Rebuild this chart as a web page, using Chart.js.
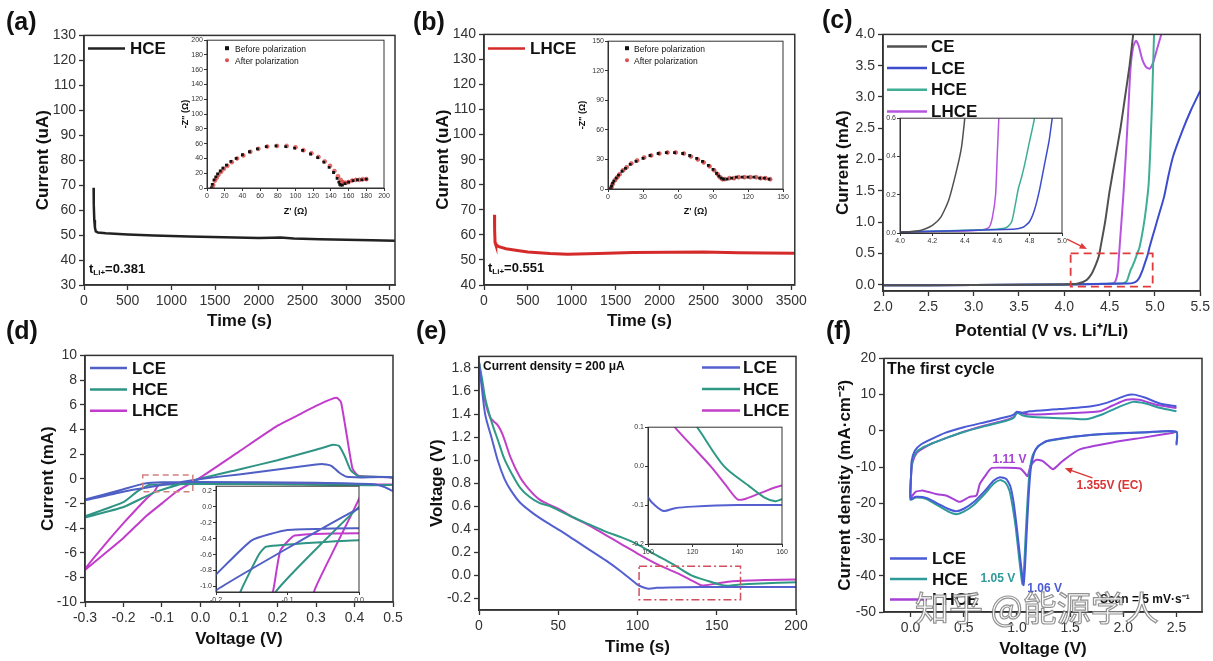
<!DOCTYPE html>
<html>
<head>
<meta charset="utf-8">
<script src="https://cdn.jsdelivr.net/npm/chart.js@4.4.0/dist/chart.umd.min.js"></script>
<style>
body { margin: 0; background: #fff; width: 1213px; height: 661px; overflow: hidden; position: relative; }
canvas { position: absolute; }
.tag { position: absolute; font: bold 25px "Liberation Sans", Arial, sans-serif; color: #111; line-height: 1; }
.wm { position: absolute; left: 915px; top: 590px; font: 34px "Noto Sans CJK SC", sans-serif; line-height: 1;
      color: rgba(255,255,255,0.9); -webkit-text-stroke: 1.2px rgba(110,110,110,0.75); white-space: nowrap; }
</style>
</head>
<body>
<canvas id="pa"></canvas><canvas id="pb"></canvas><canvas id="pc"></canvas>
<canvas id="pd"></canvas><canvas id="pe"></canvas><canvas id="pf"></canvas>
<canvas id="ia"></canvas><canvas id="ib"></canvas><canvas id="ic"></canvas>
<canvas id="id"></canvas><canvas id="ie"></canvas>
<div class="tag" style="left:6px;top:9px">(a)</div>
<div class="tag" style="left:413px;top:9px">(b)</div>
<div class="tag" style="left:822px;top:7px">(c)</div>
<div class="tag" style="left:6px;top:318px">(d)</div>
<div class="tag" style="left:416px;top:318px">(e)</div>
<div class="tag" style="left:826px;top:318px">(f)</div>
<div class="wm">知乎 @能源学人</div>
<script>
// tick labels that do not sit on the axis ends
const timeTicks = [0, 500, 1000, 1500, 2000, 2500, 3000, 3500];
const eVoltTicks = [-0.2, 0.0, 0.2, 0.4, 0.6, 0.8, 1.0, 1.2, 1.4, 1.6, 1.8];

// (a) HCE polarization current
const hceTime = [110, 112, 118, 125, 135, 160, 250, 500, 800, 1200, 1600, 2000, 2150, 2250, 2400, 2700, 3000, 3300, 3600];
const hceCurrent = [69, 62, 56, 53, 51.5, 51, 50.7, 50.2, 49.8, 49.4, 49.1, 48.8, 48.9, 49.0, 48.6, 48.3, 48.1, 47.9, 47.7];
// (a) inset EIS
const aBeforeRe = [5, 6, 8, 10, 12, 15, 18, 22, 27, 33, 40, 48, 57, 67, 78, 89, 99, 108, 117, 125, 132, 138, 143, 147, 149, 150, 151, 153, 156, 160, 165, 170, 175, 180];
const aBeforeIm = [0, 5, 11, 15, 19, 23, 27, 31, 36, 40, 45, 49, 53, 56, 57, 56, 54, 51, 46, 41, 35, 28, 21, 13, 8, 5, 4, 4, 6, 8, 10, 11, 11, 12];
const aAfterRe = [6, 7, 9, 11, 13, 16, 19, 23, 28, 34, 41, 49, 58, 68, 79, 90, 100, 109, 118, 126, 133, 139, 144, 148, 151, 153, 155, 157, 160, 164, 168, 172, 176, 180];
const aAfterIm = [0, 4, 10, 14, 18, 22, 26, 30, 35, 40, 44, 49, 53, 56, 57, 57, 55, 51, 47, 42, 36, 30, 23, 16, 11, 8, 7, 7, 8, 10, 11, 11, 12, 12];

// (b) LHCE polarization current
const lhceTime = [119, 121, 126, 135, 170, 250, 360, 500, 750, 950, 1300, 1700, 2100, 2500, 2900, 3200, 3600];
const lhceCurrent = [68, 62, 57, 56, 55.3, 54.5, 53.9, 53.2, 52.6, 52.3, 52.6, 53, 53.1, 53.2, 52.9, 52.8, 52.6];
// (b) inset EIS
const bBeforeRe = [2, 3, 4, 5, 7, 9, 12, 15, 19, 24, 30, 36, 43, 50, 57, 64, 70, 76, 81, 86, 90, 93, 95, 97, 99, 102, 106, 110, 115, 120, 125, 130, 134, 138];
const bBeforeIm = [0, 3, 6, 8, 11, 14, 18, 21, 25, 28, 31, 34, 36, 37, 37, 36, 34, 31, 28, 24, 20, 16, 13, 11, 10, 10, 11, 12, 12, 12, 12, 11, 11, 10];
const bAfterRe = [2, 3, 4, 6, 8, 10, 13, 16, 20, 25, 31, 37, 44, 51, 58, 65, 71, 77, 82, 87, 91, 94, 96, 98, 100, 104, 108, 112, 117, 122, 127, 131, 135, 139];
const bAfterIm = [0, 2, 5, 9, 12, 15, 19, 22, 26, 29, 32, 34, 36, 37, 37, 36, 33, 30, 27, 23, 19, 15, 12, 10, 10, 11, 11, 12, 12, 12, 12, 11, 11, 10];

// (c) LSV
const ceV = [2.0, 3.0, 4.0, 4.1, 4.15, 4.2, 4.25, 4.3, 4.35, 4.38, 4.4, 4.45, 4.5, 4.56, 4.62, 4.67, 4.72, 4.76, 4.8];
const ceI = [-0.01, -0.005, 0.005, 0.01, 0.02, 0.04, 0.08, 0.17, 0.33, 0.45, 0.6, 1.0, 1.5, 2.0, 2.5, 3.0, 3.5, 4.0, 4.5];
const lceV = [2.0, 3.0, 4.0, 4.7, 4.76, 4.8, 4.83, 4.86, 4.89, 4.92, 4.94, 5.0, 5.05, 5.1, 5.15, 5.2, 5.3, 5.4, 5.5];
const lceI = [-0.01, -0.005, 0.005, 0.02, 0.03, 0.06, 0.12, 0.22, 0.35, 0.48, 0.6, 0.9, 1.15, 1.4, 1.75, 2.05, 2.45, 2.8, 3.1];
const hceV = [2.0, 3.0, 4.0, 4.6, 4.66, 4.69, 4.71, 4.73, 4.75, 4.77, 4.8, 4.83, 4.87, 4.9, 4.93, 4.95, 4.97, 4.99, 5.01];
const hceI = [-0.01, -0.005, 0.005, 0.02, 0.03, 0.06, 0.14, 0.23, 0.29, 0.36, 0.48, 0.6, 0.9, 1.2, 1.6, 2.2, 3.0, 4.0, 4.6];
const lhceV = [2.0, 3.0, 4.0, 4.4, 4.5, 4.55, 4.57, 4.59, 4.6, 4.61, 4.62, 4.65, 4.68, 4.71, 4.73, 4.76, 4.79, 4.82, 4.86, 4.9, 4.94, 4.98, 5.02, 5.06, 5.1];
const lhceI = [-0.01, -0.005, 0.005, 0.01, 0.015, 0.03, 0.08, 0.2, 0.4, 0.6, 0.8, 1.4, 2.1, 2.9, 3.45, 3.8, 3.9, 3.82, 3.6, 3.48, 3.45, 3.55, 3.75, 3.95, 4.15];

// (d) Li plating/stripping loops
const dLceV = [-0.3, -0.2, -0.1, 0, 0.1, 0.2, 0.3, 0.32, 0.34, 0.36, 0.38, 0.42, 0.5, 0.5, 0.48, 0.45, 0.3, 0, -0.1, -0.15, -0.2, -0.3];
const dLceI = [-1.75, -1.05, -0.52, -0.02, 0.35, 0.75, 1.15, 1.18, 1.05, 0.5, 0.15, 0.1, 0.08, -1.0, -0.7, -0.45, -0.32, -0.27, -0.29, -0.42, -0.85, -1.7];
const dHceV = [-0.3, -0.2, -0.115, 0, 0.1, 0.2, 0.3, 0.345, 0.36, 0.375, 0.39, 0.41, 0.5, 0.5, 0.2, 0, -0.13, -0.14, -0.165, -0.2, -0.3];
const dHceI = [-3.15, -2.3, -1.05, 0.0, 0.75, 1.5, 2.35, 2.75, 2.65, 1.8, 0.7, 0.2, 0.12, -0.5, -0.45, -0.42, -0.5, -0.6, -1.05, -1.9, -3.05];
const dLhceV = [-0.3, -0.25, -0.2, -0.14, -0.1, -0.06, 0, 0.1, 0.2, 0.25, 0.3, 0.34, 0.355, 0.365, 0.38, 0.395, 0.41, 0.45, 0.5, 0.5, 0.3, 0.1, 0, -0.09, -0.11, -0.12, -0.14, -0.2, -0.25, -0.3];
const dLhceI = [-7.4, -6.1, -4.8, -3.0, -2.0, -1.0, 0.1, 2.2, 4.3, 5.1, 5.9, 6.45, 6.55, 6.2, 3.5, 0.8, 0.25, 0.15, 0.1, -0.45, -0.38, -0.35, -0.33, -0.36, -0.55, -1.05, -1.6, -3.6, -5.4, -7.3];

// (e) discharge curves
const eLceT = [0, 2, 4, 8, 12, 16, 20, 26, 35, 45, 51, 60, 70, 80, 90, 100, 103, 107, 112, 120, 140, 160, 180, 200];
const eLceV = [1.85, 1.6, 1.39, 1.19, 0.99, 0.84, 0.74, 0.63, 0.53, 0.44, 0.39, 0.31, 0.22, 0.13, 0.03, -0.08, -0.1, -0.115, -0.108, -0.104, -0.1, -0.1, -0.1, -0.1];
const eHceT = [0, 2, 4, 8, 12, 16, 20, 26, 32, 38, 45, 51, 60, 70, 80, 90, 100, 110, 122, 134, 145, 152, 157, 160, 170, 185, 200];
const eHceV = [1.85, 1.7, 1.53, 1.33, 1.17, 1.01, 0.9, 0.76, 0.68, 0.63, 0.6, 0.56, 0.5, 0.44, 0.38, 0.33, 0.27, 0.19, 0.1, 0.0, -0.05, -0.08, -0.09, -0.085, -0.075, -0.065, -0.06];
const eLhceT = [0, 2, 4, 7, 9, 12, 15, 20, 26, 32, 38, 45, 51, 60, 70, 80, 90, 100, 112, 120, 128, 135, 140, 143, 150, 160, 180, 200];
const eLhceV = [1.85, 1.65, 1.5, 1.37, 1.34, 1.3, 1.22, 1.02, 0.85, 0.74, 0.66, 0.61, 0.57, 0.5, 0.43, 0.35, 0.27, 0.19, 0.1, 0.05, 0.0, -0.05, -0.085, -0.085, -0.07, -0.05, -0.04, -0.035];

// (f) first-cycle CV
const fLceV = [2.5, 2.5, 2.2, 2.0, 1.8, 1.6, 1.46, 1.28, 1.2, 1.16, 1.13, 1.11, 1.09, 1.075, 1.062, 1.05, 1.03, 1.0, 0.97, 0.94, 0.9, 0.84, 0.78, 0.7, 0.6, 0.5, 0.43, 0.35, 0.25, 0.15, 0.05, 0.0,
  0.005, 0.01, 0.04, 0.1, 0.2, 0.33, 0.5, 0.7, 0.9, 0.97, 1.0, 1.05, 1.12, 1.4, 1.7, 1.85, 2.03, 2.1, 2.2, 2.35, 2.5];
const fLceI = [-4.0, -0.2, -0.4, -0.6, -0.9, -1.4, -1.9, -2.8, -4.2, -6.3, -10.5, -18, -29, -38, -42.6, -40, -35, -27, -20, -15.5, -13.3, -12.8, -13.8, -16.5, -19.5, -21.5, -22.2, -21.5, -20, -18.5, -18.2, -18.8,
  -12, -8.3, -5.5, -3.7, -2.2, -0.5, 1.0, 2.4, 3.8, 4.5, 5.3, 5.0, 5.4, 6.0, 6.8, 7.8, 9.8, 10.0, 9.2, 7.5, 6.8];
const fHceV = [2.5, 2.5, 2.2, 2.0, 1.8, 1.6, 1.46, 1.28, 1.2, 1.15, 1.12, 1.1, 1.08, 1.065, 1.052, 1.04, 1.02, 0.99, 0.96, 0.93, 0.89, 0.84, 0.78, 0.7, 0.6, 0.5, 0.43, 0.35, 0.25, 0.15, 0.05, 0.0,
  0.005, 0.015, 0.05, 0.12, 0.2, 0.35, 0.5, 0.7, 0.9, 0.97, 1.0, 1.05, 1.12, 1.3, 1.5, 1.65, 1.8, 1.95, 2.09, 2.2, 2.35, 2.5];
const fHceI = [-3.5, -0.3, -0.45, -0.65, -0.95, -1.45, -2.0, -2.9, -4.3, -6.6, -11, -19, -30, -39, -42.3, -40, -35, -27, -21, -16.5, -14.2, -13.6, -14.6, -17.3, -20.3, -22.3, -23.0, -22.2, -20.5, -18.8, -18.4, -19.0,
  -12, -8.5, -6, -4.5, -3.5, -1.8, -0.3, 1.3, 2.8, 3.6, 5.0, 4.3, 3.9, 3.6, 3.4, 3.2, 4.5, 6.5, 8.0, 7.6, 6.3, 5.4];
const fLhceV = [2.5, 2.47, 2.2, 1.9, 1.59, 1.43, 1.34, 1.29, 1.24, 1.18, 1.13, 1.1, 1.07, 1.03, 0.9, 0.76, 0.7, 0.65, 0.62, 0.55, 0.46, 0.4, 0.34, 0.25, 0.12, 0.05, 0.0,
  0.005, 0.02, 0.06, 0.12, 0.2, 0.35, 0.5, 0.7, 0.9, 0.97, 1.0, 1.05, 1.12, 1.4, 1.78, 1.9, 2.03, 2.15, 2.3, 2.5];
const fLhceI = [-0.3, -0.5, -1.8, -3.2, -5.1, -8.3, -10.6, -9.5, -8.3, -8.0, -9.5, -12.5, -11.5, -10.4, -10.2, -10.3, -12.5, -14.7, -17.8, -18.3, -19.6, -18.8, -17.9, -17.5, -16.5, -16.8, -18.3,
  -12, -8.5, -6, -4.8, -3.5, -1.8, -0.2, 1.5, 3.0, 3.8, 5.0, 4.8, 4.5, 4.8, 5.4, 7.0, 8.6, 8.6, 7.3, 6.3];

const FONT = '"Liberation Sans", Arial, sans-serif';
Chart.defaults.font.family = FONT;
Chart.defaults.color = '#333';

function pts(xs, ys) { return xs.map((x, i) => ({ x: x, y: ys[i] })); }
function fmt1(v) { return Math.abs(v) < 1e-9 ? '0.0' : v.toFixed(1); }
function fmtInt(v) { return String(Math.round(v)); }

function line(xs, ys, color, w) {
  return { data: pts(xs, ys), borderColor: color, backgroundColor: color, showLine: true, pointRadius: 0, borderWidth: w || 2 };
}

function axis(min, max, step, o) {
  o = o || {};
  const inset = !!o.inset;
  const s = {
    type: 'linear', min: min, max: max,
    border: { display: true, color: '#333', width: inset ? 1 : 1.5 },
    grid: { drawOnChartArea: false, drawTicks: true, tickLength: inset ? 3 : 5, tickColor: '#333', tickWidth: inset ? 1 : 1.3 },
    ticks: { stepSize: step, includeBounds: false, autoSkip: false, maxRotation: 0, padding: inset ? 1 : 3,
             color: '#333', font: { size: inset ? 7 : 14 } },
    title: o.title ? { display: true, text: o.title, color: '#111',
                       font: { size: inset ? 9 : 17, weight: 'bold' },
                       padding: inset ? { top: 2, bottom: 2 } : { top: 4, bottom: 4 } } : { display: false }
  };
  if (o.fmt) s.ticks.callback = o.fmt;
  if (o.ticks) s.afterBuildTicks = sc => { sc.ticks = o.ticks.map(v => ({ value: v })); };
  return s;
}

function framePlugin(fill) {
  return {
    id: 'frame',
    beforeDraw(c) {
      if (!fill) return;
      const A = c.chartArea;
      c.ctx.save(); c.ctx.fillStyle = '#fff';
      c.ctx.fillRect(A.left, A.top, A.right - A.left, A.bottom - A.top);
      c.ctx.restore();
    },
    afterDatasetsDraw(c) {
      const A = c.chartArea, ctx = c.ctx;
      ctx.save(); ctx.strokeStyle = '#333'; ctx.lineWidth = fill ? 1 : 1.5;
      ctx.strokeRect(A.left, A.top, A.right - A.left, A.bottom - A.top);
      ctx.restore();
    }
  };
}

function decoPlugin(d) {
  return {
    id: 'deco',
    afterDraw(chart) {
      const ctx = chart.ctx, A = chart.chartArea, sx = chart.scales.x, sy = chart.scales.y;
      const px = v => sx.getPixelForValue(v), py = v => sy.getPixelForValue(v);
      ctx.save();
      (d.rects || []).forEach(r => {
        ctx.setLineDash(r.dash); ctx.strokeStyle = r.color; ctx.lineWidth = r.w || 1.5;
        ctx.strokeRect(px(r.x0), py(r.y0), px(r.x1) - px(r.x0), py(r.y1) - py(r.y0));
      });
      ctx.setLineDash([]);
      (d.arrows || []).forEach(a => {
        const x0 = px(a.x0), y0 = py(a.y0), x1 = px(a.x1), y1 = py(a.y1);
        const ang = Math.atan2(y1 - y0, x1 - x0);
        ctx.strokeStyle = a.color; ctx.fillStyle = a.color; ctx.lineWidth = 1.3;
        ctx.beginPath(); ctx.moveTo(x0, y0); ctx.lineTo(x1 - 5 * Math.cos(ang), y1 - 5 * Math.sin(ang)); ctx.stroke();
        ctx.beginPath(); ctx.moveTo(x1, y1);
        ctx.lineTo(x1 - 8 * Math.cos(ang - 0.4), y1 - 8 * Math.sin(ang - 0.4));
        ctx.lineTo(x1 - 8 * Math.cos(ang + 0.4), y1 - 8 * Math.sin(ang + 0.4));
        ctx.closePath(); ctx.fill();
      });
      if (d.legend) {
        const L = d.legend;
        L.items.forEach((it, i) => {
          const y = A.top + L.y + i * L.dy, x = A.left + L.x;
          ctx.strokeStyle = it[1]; ctx.fillStyle = it[1];
          if (it[2] === 'rect') { ctx.fillRect(x - 2, y - 2, 4, 4); }
          else if (it[2] === 'circle') { ctx.beginPath(); ctx.arc(x, y, 2, 0, Math.PI * 2); ctx.fill(); }
          else { ctx.lineWidth = L.w || 2.5; ctx.beginPath(); ctx.moveTo(x, y); ctx.lineTo(x + L.len, y); ctx.stroke(); }
          ctx.font = (L.bold ? 'bold ' : '') + L.size + 'px ' + FONT;
          ctx.fillStyle = '#111'; ctx.textAlign = 'left'; ctx.textBaseline = 'middle';
          ctx.fillText(it[0], x + L.len + L.gap, y + 1);
        });
      }
      (d.texts || []).forEach(t => {
        let x = t.data ? px(t.x) : A.left + t.x;
        const y = t.data ? py(t.y) : A.top + t.y;
        ctx.fillStyle = t.color || '#111'; ctx.textBaseline = 'middle';
        const parts = t.parts || [[t.s, t.size, 0]];
        let total = 0;
        parts.forEach(p => { ctx.font = 'bold ' + p[1] + 'px ' + FONT; total += ctx.measureText(p[0]).width; });
        if (t.align === 'center') x -= total / 2;
        ctx.textAlign = 'left';
        parts.forEach(p => {
          ctx.font = 'bold ' + p[1] + 'px ' + FONT;
          ctx.fillText(p[0], x, y + p[2]);
          x += ctx.measureText(p[0]).width;
        });
      });
      ctx.restore();
    }
  };
}

// box = [left, top, width, height] of canvas; plot = [left, top, right, bottom] of plot area (page px)
function build(id, box, plot, cfg) {
  const cv = document.getElementById(id);
  cv.width = box[2]; cv.height = box[3];
  cv.style.left = box[0] + 'px'; cv.style.top = box[1] + 'px';
  const yW = plot[0] - box[0], xH = box[1] + box[3] - plot[3];
  const padT = plot[1] - box[1], padR = box[0] + box[2] - plot[2];
  cfg.x.afterFit = s => { s.height = xH; };
  cfg.y.afterFit = s => { s.width = yW; };
  return new Chart(cv, {
    type: 'scatter',
    data: { datasets: cfg.datasets },
    options: {
      responsive: false, animation: false, events: [],
      layout: { padding: { top: padT, right: padR, left: 0, bottom: 0 } },
      scales: { x: cfg.x, y: cfg.y },
      elements: { line: { tension: cfg.tension || 0 } },
      plugins: { legend: { display: false }, tooltip: { enabled: false } }
    },
    plugins: [framePlugin(cfg.fill), decoPlugin(cfg.deco || {})]
  });
}

const BLUE_C = '#3d4ccc', TEAL_C = '#3fae94', PURP_C = '#b654e0', GRAY_C = '#505050';
const BLUE_D = '#4f5fc4', TEAL_D = '#2f9484', PURP_D = '#c23ccc';
const BLUE_F = '#4a5ad6', TEAL_F = '#2f9a9a', PURP_F = '#a640d6';
const RED = '#d93535';

// (a)
build('pa', [29, 24, 381, 312], [84, 34, 395, 285], {
  x: axis(0, 3560, 500, { title: 'Time (s)', ticks: timeTicks, fmt: fmtInt }),
  y: axis(30, 130, 10, { title: 'Current (uA)' }),
  datasets: [line(hceTime, hceCurrent, '#222', 2.5)],
  deco: {
    legend: { x: 4, y: 13, dy: 0, len: 37, gap: 5, size: 17, bold: true, items: [['HCE', '#222']] },
    texts: [{ x: 5, y: 234, parts: [['t', 13, 0], ['Li+', 8, 3], ['=0.381', 13, 0]] }]
  }
});
build('ia', [178, 35, 214, 184], [207, 40, 384, 188], {
  fill: true,
  x: axis(0, 200, 20, { inset: true, title: "Z' (Ω)" }),
  y: axis(0, 200, 20, { inset: true, title: "-Z'' (Ω)" }),
  datasets: [
    { data: pts(aBeforeRe, aBeforeIm), pointStyle: 'rect', pointRadius: 2, backgroundColor: '#111', borderWidth: 0 },
    { data: pts(aAfterRe, aAfterIm), pointStyle: 'circle', pointRadius: 2, backgroundColor: 'rgba(225,70,70,0.75)', borderColor: 'rgba(210,50,50,0.9)', borderWidth: 0.5 }
  ],
  deco: {
    legend: { x: 20, y: 8, dy: 12, len: 0, gap: 8, size: 8.5, items: [['Before polarization', '#111', 'rect'], ['After polarization', '#e05050', 'circle']] }
  }
});

// (b)
build('pb', [429, 23, 381, 313], [484, 33, 795, 285], {
  x: axis(0, 3540, 500, { title: 'Time (s)', ticks: timeTicks, fmt: fmtInt }),
  y: axis(40, 140, 10, { title: 'Current (uA)' }),
  datasets: [line(lhceTime, lhceCurrent, '#d42a2a', 3)],
  deco: {
    legend: { x: 4, y: 14, dy: 0, len: 37, gap: 5, size: 17, bold: true, items: [['LHCE', '#d42a2a']] },
    texts: [{ x: 4, y: 234, parts: [['t', 13, 0], ['Li+', 8, 3], ['=0.551', 13, 0]] }]
  }
});
build('ib', [575, 36, 216, 183], [608, 41, 783, 189], {
  fill: true,
  x: axis(0, 150, 30, { inset: true, title: "Z' (Ω)" }),
  y: axis(0, 150, 30, { inset: true, title: "-Z'' (Ω)" }),
  datasets: [
    { data: pts(bBeforeRe, bBeforeIm), pointStyle: 'rect', pointRadius: 2, backgroundColor: '#111', borderWidth: 0 },
    { data: pts(bAfterRe, bAfterIm), pointStyle: 'circle', pointRadius: 2, backgroundColor: 'rgba(200,40,40,0.7)', borderColor: 'rgba(200,40,40,0.9)', borderWidth: 0.5 }
  ],
  deco: {
    legend: { x: 19, y: 7, dy: 12, len: 0, gap: 7, size: 8.5, items: [['Before polarization', '#111', 'rect'], ['After polarization', '#e05050', 'circle']] }
  }
});

// (c)
build('pc', [829, 23, 384, 323], [883, 33, 1203, 291], {
  tension: 0.2,
  x: axis(2.0, 5.5, 0.5, { title: 'Potential (V vs. Li⁺/Li)', fmt: fmt1 }),
  y: axis(-0.1, 4.0, 0.5, { title: 'Current (mA)', fmt: fmt1 }),
  datasets: [line(ceV, ceI, GRAY_C), line(lceV, lceI, BLUE_C), line(hceV, hceI, TEAL_C), line(lhceV, lhceI, PURP_C)],
  deco: {
    legend: { x: 4, y: 12, dy: 21.7, len: 40, gap: 4, size: 17, bold: true,
              items: [['CE', GRAY_C], ['LCE', BLUE_C], ['HCE', TEAL_C], ['LHCE', PURP_C]] },
    rects: [{ x0: 4.07, y0: 0.5, x1: 4.975, y1: -0.03, color: '#e03a3a', dash: [8, 5], w: 1.8 }],
    arrows: [{ x0: 4.03, y0: 0.73, x1: 4.25, y1: 0.57, color: '#e03a3a' }]
  }
});
build('ic', [878, 113, 192, 132], [900, 118, 1062, 233], {
  fill: true, tension: 0.2,
  x: axis(4.0, 5.0, 0.2, { inset: true, fmt: fmt1 }),
  y: axis(0, 0.6, 0.2, { inset: true, fmt: fmt1 }),
  datasets: [line(ceV, ceI, GRAY_C, 1.5), line(lceV, lceI, BLUE_C, 1.5), line(hceV, hceI, TEAL_C, 1.5), line(lhceV, lhceI, PURP_C, 1.5)]
});

// (d)
build('pd', [34, 344, 374, 310], [85, 354, 393, 602], {
  tension: 0.15,
  x: axis(-0.3, 0.5, 0.1, { title: 'Voltage (V)', fmt: fmt1 }),
  y: axis(-10, 10, 2, { title: 'Current (mA)' }),
  datasets: [line(dLceV, dLceI, BLUE_D), line(dHceV, dHceI, TEAL_D), line(dLhceV, dLhceI, PURP_D)],
  deco: {
    legend: { x: 5, y: 12.7, dy: 21.3, len: 37, gap: 5, size: 17, bold: true,
              items: [['LCE', BLUE_D], ['HCE', TEAL_D], ['LHCE', PURP_D]] },
    rects: [{ x0: -0.15, y0: 0.3, x1: -0.02, y1: -1.05, color: '#d08080', dash: [6, 4], w: 1.5 }]
  }
});
build('id', [194, 481, 173, 123], [216, 486, 359, 592], {
  fill: true, tension: 0.15,
  x: axis(-0.2, 0.0, 0.1, { inset: true, fmt: fmt1 }),
  y: axis(-1.07, 0.26, 0.2, { inset: true, fmt: fmt1 }),
  datasets: [line(dLceV, dLceI, BLUE_D), line(dHceV, dHceI, TEAL_D), line(dLhceV, dLhceI, PURP_D)]
});

// (e)
build('pe', [423, 345, 388, 317], [479, 355, 796, 610], {
  tension: 0.3,
  x: axis(0, 200, 50, { title: 'Time (s)' }),
  y: axis(-0.3, 1.9, 0.2, { title: 'Voltage (V)', fmt: fmt1, ticks: eVoltTicks }),
  datasets: [line(eLceT, eLceV, '#5560d0'), line(eHceT, eHceV, '#2f9a84'), line(eLhceT, eLhceV, '#c040c8')],
  deco: {
    legend: { x: 223, y: 11, dy: 21.5, len: 38, gap: 3, size: 17, bold: true,
              items: [['LCE', '#5560d0'], ['HCE', '#2f9a84'], ['LHCE', '#c040c8']] },
    texts: [{ x: 4, y: 10, s: 'Current density = 200 μA', size: 12 }],
    rects: [{ x0: 101, y0: 0.08, x1: 165, y1: -0.21, color: '#d05060', dash: [8, 3, 2, 3], w: 1.5 }]
  }
});
build('ie', [626, 422, 164, 134], [648, 427, 782, 544], {
  fill: true, tension: 0.3,
  x: axis(100, 160, 20, { inset: true }),
  y: axis(-0.2, 0.1, 0.1, { inset: true, fmt: fmt1 }),
  datasets: [line(eLceT, eLceV, '#5560d0'), line(eHceT, eHceV, '#2f9a84'), line(eLhceT, eLhceV, '#c040c8')]
});

// (f)
build('pf', [831, 347, 382, 317], [884, 357, 1202, 612], {
  tension: 0.2,
  x: axis(-0.25, 2.74, 0.5, { title: 'Voltage (V)', fmt: fmt1 }),
  y: axis(-50, 20, 10, { title: 'Current density (mA·cm⁻²)' }),
  datasets: [line(fLceV, fLceI, BLUE_F), line(fHceV, fHceI, TEAL_F), line(fLhceV, fLhceI, PURP_F)],
  deco: {
    legend: { x: 6, y: 200, dy: 20.5, len: 37, gap: 5, size: 17, bold: true,
              items: [['LCE', BLUE_F], ['HCE', TEAL_F], ['LHCE', PURP_F]] },
    arrows: [{ x0: 1.71, y0: -13.0, x1: 1.45, y1: -10.3, color: RED }],
    texts: [
      { x: 3, y: 11, s: 'The first cycle', size: 16 },
      { data: true, x: 0.93, y: -7.9, s: '1.11 V', size: 12, color: PURP_F, align: 'center' },
      { data: true, x: 0.82, y: -40.8, s: '1.05 V', size: 12, color: TEAL_F, align: 'center' },
      { data: true, x: 1.26, y: -43.7, s: '1.06 V', size: 12, color: BLUE_F, align: 'center' },
      { data: true, x: 1.87, y: -15.1, s: '1.355V (EC)', size: 12, color: RED, align: 'center' },
      { x: 216, y: 241, s: 'Scan = 5 mV·s⁻¹', size: 12 }
    ]
  }
});
</script>
</body>
</html>
